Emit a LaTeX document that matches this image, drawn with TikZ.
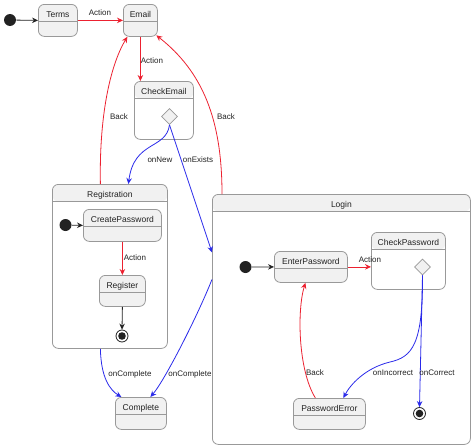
\documentclass[tikz,border=0pt]{standalone}
\usepackage{fontspec}
\setmainfont{Liberation Sans}
\usetikzlibrary{arrows.meta,shapes.geometric}
\definecolor{boxfill}{HTML}{F1F1F1}
\definecolor{boxline}{HTML}{999999}
\definecolor{ink}{HTML}{222222}
\definecolor{linkred}{HTML}{EC2130}
\definecolor{linkblue}{HTML}{2A2AEA}

\begin{document}
\begin{tikzpicture}[x=1pt,y=-1pt,line width=0.8pt]
    %
    % `state' is a rounded box with its name on top and a divider line.
    % `group' is the same box for states that hold other states (white body).
    % `start' and `stop' are the initial and final pseudo states.
    % `choice' is the small diamond inside a check state.
    \tikzstyle{state} = [draw=boxline,fill=boxfill,rounded corners=6pt,anchor=north west,font=\fontsize{8.5}{10}\selectfont,text=ink,inner sep=0pt,inner ysep=3pt,text height=10pt,text depth=16pt,path picture={\draw[boxline] ([yshift=-17pt]path picture bounding box.north west) -- ([yshift=-17pt]path picture bounding box.north east);}]
    \tikzstyle{group} = [state,fill=white,path picture={\fill[boxfill] (path picture bounding box.north west) rectangle ([yshift=-17pt]path picture bounding box.north east); \draw[boxline] ([yshift=-17pt]path picture bounding box.north west) -- ([yshift=-17pt]path picture bounding box.north east);}]
    \tikzstyle{start} = [circle,fill=ink,minimum size=12pt,inner sep=0pt]
    \tikzstyle{stop} = [circle,draw=ink,fill=white,minimum size=12pt,inner sep=0pt,path picture={\fill[ink] (path picture bounding box.center) circle (3.8pt);}]
    \tikzstyle{choice} = [diamond,draw=boxline,fill=boxfill,minimum size=16pt,inner sep=0pt]
    \tikzstyle{lbl} = [font=\fontsize{8}{9.6}\selectfont,text=ink,inner sep=0pt]
    \tikzstyle{redlink} = [draw=linkred,-{Stealth[length=6pt,width=5.5pt,inset=2pt]}]
    \tikzstyle{bluelink} = [draw=linkblue,-{Stealth[length=6pt,width=5.5pt,inset=2pt]}]
    \tikzstyle{inklink} = [draw=ink,-{Stealth[length=6pt,width=5.5pt,inset=2pt]}]
    %
    \useasboundingbox (0,0) rectangle (474,447);
    %
    % Top row
    \node[start] (init) at (10,20) {};
    \node[state,minimum width=39pt] (terms) at (38,4) {Terms};
    \node[state,minimum width=34pt] (email) at (123,4) {Email};
    \node[group,minimum width=59pt,text depth=42pt] (checkemail) at (134,81) {CheckEmail};
    \node[choice] (emailchoice) at (169.5,116.5) {};
    %
    % Registration
    \node[group,minimum width=115pt,text depth=148pt] (registration) at (52,184) {Registration};
    \node[start] (reginit) at (65.5,225) {};
    \node[state,minimum width=78pt] (createpw) at (83,209) {CreatePassword};
    \node[state,minimum width=46pt,text depth=15pt] (register) at (99,275) {Register};
    \node[stop] (regend) at (122,336) {};
    %
    % Complete
    \node[state,minimum width=51pt] (complete) at (115,397) {Complete};
    %
    % Login
    \node[group,minimum width=258pt,text depth=234pt] (login) at (212,194) {Login};
    \node[start] (logininit) at (245.5,267) {};
    \node[state,minimum width=73pt,text depth=15pt] (enterpw) at (274,251) {EnterPassword};
    \node[group,minimum width=74pt,text depth=41pt] (checkpw) at (371,232) {CheckPassword};
    \node[choice] (pwchoice) at (422.5,267) {};
    \node[state,minimum width=72pt,text depth=15pt] (pwerror) at (293,398) {PasswordError};
    \node[stop] (loginend) at (419.5,413.5) {};
    %
    % Transitions
    \draw[inklink] (init) -- (terms.west);
    \draw[redlink] (terms.east) -- (email.west);
    \draw[redlink] (email.south) -- (email.south |- checkemail.north);
    \draw[redlink] ([xshift=-9.5pt]registration.north) .. controls (99,110) and (112,62) .. ([xshift=-13pt]email.south);
    \draw[redlink] ([xshift=10pt]login.north west) .. controls (222,120) and (203,72) .. ([xshift=-1.5pt,yshift=1.5pt]email.south east);
    \draw[bluelink] (emailchoice.south) .. controls (166,150) and (134,140) .. ([xshift=18.5pt]registration.north);
    \draw[bluelink] (emailchoice.south) -- ([yshift=67pt]login.west);
    \draw[inklink] (reginit) -- (createpw.west);
    \draw[redlink] (createpw.south) -- (register.north);
    \draw[inklink] (register.south) -- (regend.north);
    \draw[bluelink] ([xshift=-9.5pt]registration.south) .. controls (101,378) and (110,390) .. ([xshift=-19.5pt]complete.north);
    \draw[bluelink] ([yshift=40pt]login.west) .. controls (198,315) and (165,380) .. ([xshift=9.5pt]complete.north);
    \draw[inklink] (logininit) -- (enterpw.west);
    \draw[redlink] (enterpw.east) -- (enterpw.east -| checkpw.west);
    \draw[redlink] ([xshift=-14pt]pwerror.north) .. controls (298,370) and (297,310) .. ([xshift=-5.5pt]enterpw.south);
    \draw[bluelink] (pwchoice.south) .. controls (423,345) and (412,357) .. (390,362) .. controls (365,368) and (350,385) .. ([xshift=14pt]pwerror.north);
    \draw[bluelink] (pwchoice.south) -- (loginend.north);
    %
    % Labels
    \node[lbl] (lblterms) at (100,13) {Action};
    \node[lbl] (lblemail) at (152,61) {Action};
    \node[lbl] (lblback1) at (119,117) {Back};
    \node[lbl] (lblback2) at (226,117) {Back};
    \node[lbl] (lblnew) at (160,160) {onNew};
    \node[lbl] (lblexists) at (198,160) {onExists};
    \node[lbl] (lblcreate) at (135,258) {Action};
    \node[lbl] (lbldone1) at (130,374) {onComplete};
    \node[lbl] (lbldone2) at (190,374) {onComplete};
    \node[lbl] (lblenter) at (370,260) {Action};
    \node[lbl] (lblback3) at (315,373) {Back};
    \node[lbl] (lblwrong) at (393,373) {onIncorrect};
    \node[lbl] (lblright) at (437,373) {onCorrect};
    %
\end{tikzpicture}
\end{document}
